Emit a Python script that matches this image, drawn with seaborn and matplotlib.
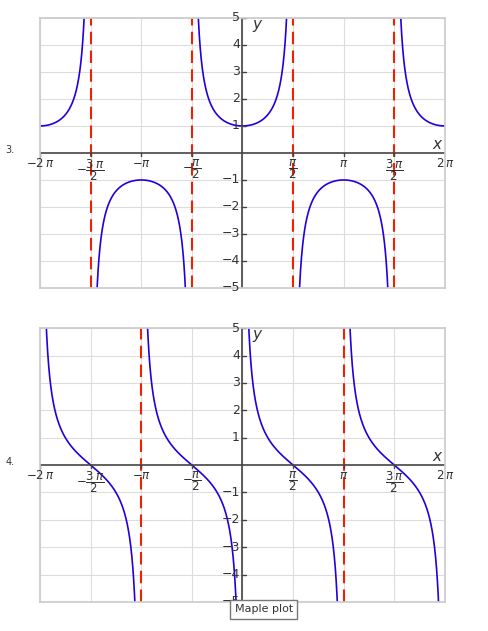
import numpy as np
import matplotlib
matplotlib.use("Agg")
import matplotlib.pyplot as plt
import seaborn as sns

sns.set_theme(style="white")
plt.rcParams['font.family'] = ['DejaVu Sans']

X_MIN, X_MAX = -2 * np.pi, 2 * np.pi
Y_MIN, Y_MAX = -5, 5
x_ticks = [-2, -1.5, -1, -0.5, 0.5, 1, 1.5, 2]
x_tick_labels = [r'$-2\,\pi$', r'$-\dfrac{3\,\pi}{2}$', r'$-\pi$', r'$-\dfrac{\pi}{2}$',
                 r'$\dfrac{\pi}{2}$', r'$\pi$', r'$\dfrac{3\,\pi}{2}$', r'$2\,\pi$']
y_ticks = [-5, -4, -3, -2, -1, 1, 2, 3, 4, 5]
sec_asymptotes = [-1.5, -0.5, 0.5, 1.5]
cot_asymptotes = [-1, 1]
plot_numbers = ["3.", "4."]


def draw(ax, func, poles, asymptotes, label):
    xs = np.linspace(X_MIN, X_MAX, 8000)
    edges = [X_MIN] + [p * np.pi for p in poles] + [X_MAX]
    for a, b in zip(edges[:-1], edges[1:]):
        seg = xs[(xs > a + 1e-4) & (xs < b - 1e-4)]
        sns.lineplot(x=seg, y=func(seg), ax=ax, color='#2200dd', lw=1.2)
    for a in asymptotes:
        ax.axvline(a * np.pi, color='#ee2200', lw=1.5, ls=(0, (6, 3)))
    for t in x_ticks + [0]:
        ax.axvline(t * np.pi, color='#dddddd', lw=0.8, zorder=0)
    for t in y_ticks:
        ax.axhline(t, color='#dddddd', lw=0.8, zorder=0)
    ax.axhline(0, color='#444444', lw=1.2)
    ax.axvline(0, color='#444444', lw=1.2)
    ax.set_xlim(X_MIN, X_MAX)
    ax.set_ylim(Y_MIN, Y_MAX)
    ax.set_xticks([]); ax.set_yticks([])
    for s in ax.spines.values():
        s.set_color('#cccccc')
    for t, l in zip(x_ticks, x_tick_labels):
        ax.plot([t * np.pi] * 2, [0, -0.12], color='#444444', lw=1)
        ax.text(t * np.pi, -0.15, l, ha='center', va='top', fontsize=8.5, color='#333333')
    for t in y_ticks:
        ax.plot([0, 0.12], [t] * 2, color='#444444', lw=1)
        ax.text(-0.08, t, str(t) if t > 0 else '−' + str(-t), ha='right', va='center',
                fontsize=9, color='#333333')
    ax.text(0.3, 4.6, 'y', fontsize=11, style='italic', color='#333333')
    ax.text(X_MAX - 0.4, 0.15, 'x', fontsize=11, style='italic', color='#333333')
    ax.text(-0.085, 0.5, label, transform=ax.transAxes, fontsize=7, color='#333333')


fig = plt.figure(figsize=(4.89, 6.31), dpi=100)
ax1 = fig.add_axes([0.0818, 0.5436, 0.828, 0.428])
ax2 = fig.add_axes([0.0818, 0.046, 0.828, 0.434])
draw(ax1, lambda v: 1 / np.cos(v), sec_asymptotes, sec_asymptotes, plot_numbers[0])
draw(ax2, lambda v: 1 / np.tan(v), [-1, 0, 1], cot_asymptotes, plot_numbers[1])
fig.text(0.48, 0.03, 'Maple plot', fontsize=8, color='#333333',
         bbox=dict(facecolor='white', edgecolor='#777777', boxstyle='square,pad=0.4'))
fig.savefig('out.png', dpi=100)
